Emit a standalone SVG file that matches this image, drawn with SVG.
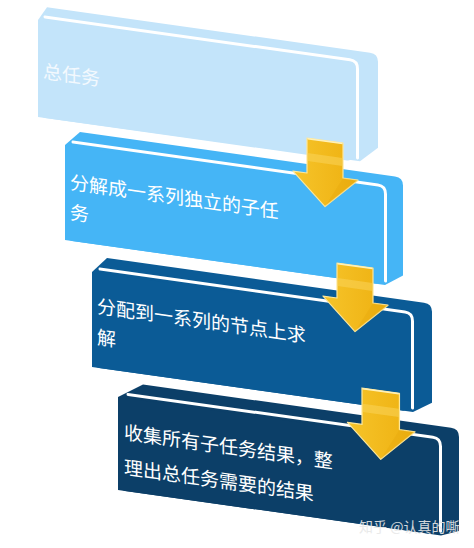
<svg xmlns="http://www.w3.org/2000/svg" width="474" height="548" viewBox="0 0 474 548">
<defs>
<style>
.b1{fill:#c3e4fa}
.b2{fill:#45b5f6}
.b3{fill:#0b5b96}
.b4{fill:#0c3f68}
.edge{fill:none;stroke:#ffffff;stroke-width:3;stroke-linecap:round;stroke-linejoin:round}
.t{font-family:"Noto Sans CJK SC","Microsoft YaHei","Noto Sans",sans-serif;font-size:19px;fill:#ffffff}
.t1{fill:#f3f9fe}
.wm{font-family:"Noto Sans CJK SC","Noto Sans",sans-serif;font-size:14px;fill:#e8e8e8;opacity:0.9}
</style>
<linearGradient id="ag" x1="0" y1="0" x2="1" y2="0">
<stop offset="0" stop-color="#f6c42a"/>
<stop offset="1" stop-color="#eeb010"/>
</linearGradient>
<g id="arrow">
<path d="M0,0 L36,0 L36,35 L51,35 L18,66 L-14,35 L0,35 Z" fill="url(#ag)" stroke="#fde79a" stroke-width="1.2" stroke-linejoin="round"/>
<rect x="0.6" y="15" width="34.8" height="8" fill="#f9d35a" opacity="0.55"/>
<path d="M18,66 L51,35 L36,35" fill="#e6a70c" opacity="0.35"/>
<path d="M0.6,0.6 L35.4,0.6" stroke="#fff1b8" stroke-width="1.5" fill="none"/>
</g>
</defs>
<rect width="474" height="548" fill="#ffffff"/>

<g id="node-1" transform="translate(38,20) skewY(8)">
<path class="b1" d="M9,-14 L332,-14 Q340,-14 340,-6 L340,80 L322,96 L0,97 L0,0 Z"/>
<rect class="b1" x="0" y="0" width="316" height="97" rx="7"/>
<path class="edge" d="M7,-4 L312,-4 Q319.5,-4 319.5,4 L319.5,93"/>
</g>
<text class="t t1" transform="translate(43,78) skewY(8)">总任务</text>

<g id="node-2" transform="translate(65,145) skewY(8)">
<path class="b2" d="M15,-15 L330,-15 Q338,-15 338,-7 L338,83 L320,95 L0,95 L0,0 Z"/>
<rect class="b2" x="0" y="0" width="317" height="95" rx="7"/>
<path class="edge" d="M8,-4 L313,-4 Q320.5,-4 320.5,4 L320.5,91"/>
</g>
<text class="t" transform="translate(70,189) skewY(8)">分解成一系列独立的子任</text>
<text class="t" transform="translate(70,219) skewY(8)">务</text>

<g id="node-3" transform="translate(92,272) skewY(8)">
<path class="b3" d="M15,-16 L332,-16 Q340,-16 340,-8 L340,83 L321,95 L0,95 L0,0 Z"/>
<rect class="b3" x="0" y="0" width="317" height="95" rx="7"/>
<path class="edge" d="M8,-4 L313,-4 Q320.5,-4 320.5,4 L320.5,91"/>
</g>
<text class="t" transform="translate(97,313) skewY(8)">分配到一系列的节点上求</text>
<text class="t" transform="translate(97,344) skewY(8)">解</text>

<g id="node-4" transform="translate(118,397) skewY(8)">
<path class="b4" d="M25,-16 L333,-16 Q341,-16 341,-8 L341,86 L323,93 L0,93 L0,0 Z"/>
<rect class="b4" x="0" y="0" width="319" height="93" rx="7"/>
<path class="edge" d="M10,-4 L315,-4 Q322.5,-4 322.5,4 L322.5,89"/>
</g>
<text class="t" transform="translate(124,439) skewY(8)">收集所有子任务结果，整</text>
<text class="t" transform="translate(124,474) skewY(8)">理出总任务需要的结果</text>

<g id="connectors">
<use href="#arrow" transform="translate(307,138) skewY(8)"/>
<use href="#arrow" transform="translate(337,263) skewY(8)"/>
<use href="#arrow" transform="translate(362,388) skewY(8) scale(1.04)"/>
</g>

<text class="wm" x="359" y="532">知乎 @认真的嘶</text>
</svg>
